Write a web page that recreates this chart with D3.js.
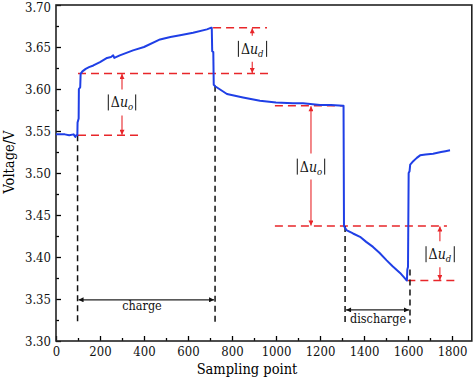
<!DOCTYPE html>
<html><head><meta charset="utf-8">
<script src="https://cdn.jsdelivr.net/npm/d3@7"></script>
<style>
body{margin:0;background:#fff;}
</style></head>
<body><svg id="chart" width="474" height="381"></svg>
<script>
// ---- data ----
const samplePoints = [0,20,40,60,80,88,92,97,98,103,104,110,112,120,135,150,170,200,232,250,260,265,290,350,400,473,520,564,623,686,706,708,710,715,717,725,777,850,927,1000,1077,1123,1200,1250,1305,1307,1309,1320,1350,1382,1410,1441,1470,1503,1530,1564,1591,1595,1597,1600,1603,1607,1610,1620,1640,1655,1680,1714,1750,1770,1791];
const voltage = [3.546,3.546,3.546,3.545,3.546,3.543,3.545,3.545,3.560,3.565,3.600,3.602,3.618,3.621,3.624,3.626,3.628,3.632,3.637,3.638,3.640,3.637,3.640,3.646,3.650,3.659,3.662,3.664,3.667,3.671,3.673,3.673,3.645,3.644,3.605,3.603,3.594,3.590,3.586,3.584,3.583,3.583,3.581,3.581,3.580,3.580,3.437,3.432,3.428,3.424,3.418,3.412,3.405,3.396,3.389,3.381,3.373,3.372,3.385,3.388,3.500,3.502,3.510,3.513,3.518,3.521,3.522,3.523,3.525,3.526,3.527];

const xMajorTicks = [0,200,400,600,800,1000,1200,1400,1600,1800];
const xMinorTicks = [100,300,500,700,900,1100,1300,1500,1700];
const yMajorTicks = [3.30,3.35,3.40,3.45,3.50,3.55,3.60,3.65,3.70];
const yMinorTicks = [3.325,3.375,3.425,3.475,3.525,3.575,3.625,3.675];

// red dashed reference levels: [voltage, fromX, toX]
const redLevels = [[3.545,100,395],[3.6186,100,973],[3.673,714,959],[3.580,995,1305],[3.437,995,1777],[3.372,1597,1814]];
// black dashed verticals: [x, fromV, toV]
const blackVerticals = [[98,3.545,3.323],[723,3.604,3.319],[1314,3.437,3.321],[1609,3.385,3.321]];
// double arrows with labels: [fromX, toX, voltage, label, labelX, labelV]
const spanArrows = [[98,723,3.349,"charge",391,3.337],[1314,1609,3.337,"discharge",1464,3.3215]];
// red delta arrows: [x, topV, bottomV, subscript, labelV]
const deltaArrows = [[300,3.6186,3.545,"o",3.584],[892,3.673,3.6186,"d",3.6478],[1159,3.580,3.437,"o",3.5076],[1745,3.437,3.372,"d",3.4033]];

// ---- scales ----
const FONT = "DejaVu Serif Condensed, DejaVu Serif";
const svg = d3.select("#chart");
const x = d3.scaleLinear().domain([0,1890]).range([56,471.8]);
const y = d3.scaleLinear().domain([3.30,3.70]).range([341,5]);
const red = "#e8262a", blue = "#1f3fe6";

// axes
const gx = svg.append("g").attr("transform","translate(0,341)")
  .call(d3.axisBottom(x).tickValues(xMajorTicks).tickSize(-5).tickPadding(6).tickFormat(d3.format("d")));
const gxm = svg.append("g").attr("transform","translate(0,341)")
  .call(d3.axisBottom(x).tickValues(xMinorTicks).tickSize(-3).tickFormat(""));
const gy = svg.append("g").attr("transform","translate(56,0)")
  .call(d3.axisLeft(y).tickValues(yMajorTicks).tickSize(-5).tickPadding(5).tickFormat(d3.format(".2f")));
const gym = svg.append("g").attr("transform","translate(56,0)")
  .call(d3.axisLeft(y).tickValues(yMinorTicks).tickSize(-3).tickFormat(""));
[gx,gxm,gy,gym].forEach(g=>{
  g.attr("font-family",FONT);
  g.select(".domain").remove();
  g.selectAll("line").attr("stroke","#000").attr("stroke-width",1.3);
  g.selectAll("text").attr("font-size",13).attr("fill","#111");
});
gy.selectAll(".tick text").filter(d=>d===3.70).attr("dy","0.5em");

svg.append("rect").attr("x",56).attr("y",5).attr("width",471.8-56).attr("height",336)
  .attr("fill","none").attr("stroke","#222").attr("stroke-width",1.6);

// axis titles
svg.append("text").attr("x",247).attr("y",374).attr("text-anchor","middle")
  .attr("font-family",FONT).attr("font-size",14.5).text("Sampling point");
svg.append("text").attr("transform","translate(14,162) rotate(-90)").attr("text-anchor","middle")
  .attr("font-family",FONT).attr("font-size",14.5).text("Voltage/V");

// red dashed levels
svg.append("g").selectAll("line").data(redLevels).join("line")
  .attr("x1",d=>x(d[1])).attr("x2",d=>x(d[2])).attr("y1",d=>y(d[0])).attr("y2",d=>y(d[0]))
  .attr("stroke",red).attr("stroke-width",1.5).attr("stroke-dasharray","8,5");

// black dashed verticals
svg.append("g").selectAll("line").data(blackVerticals).join("line")
  .attr("x1",d=>x(d[0])).attr("x2",d=>x(d[0])).attr("y1",d=>y(d[1])).attr("y2",d=>y(d[2]))
  .attr("stroke","#111").attr("stroke-width",1.5).attr("stroke-dasharray","6,4");

// data line
const pts = samplePoints.map((s,i)=>[s,voltage[i]]);
svg.append("path").datum(pts)
  .attr("d",d3.line().x(d=>x(d[0])).y(d=>y(d[1])))
  .attr("fill","none").attr("stroke",blue).attr("stroke-width",2).attr("stroke-linejoin","round");

// arrow markers
const defs = svg.append("defs");
function marker(id,color){
  defs.append("marker").attr("id",id).attr("viewBox","0 0 10 10").attr("refX",10).attr("refY",5)
    .attr("markerWidth",6).attr("markerHeight",5).attr("markerUnits","userSpaceOnUse").attr("orient","auto-start-reverse")
    .append("path").attr("d","M0,0L10,5L0,10Z").attr("fill",color);
}
marker("ab","#111"); marker("ar",red);

// span arrows
spanArrows.forEach(a=>{
  svg.append("line").attr("x1",x(a[0])+1).attr("x2",x(a[1])-1).attr("y1",y(a[2])).attr("y2",y(a[2]))
    .attr("stroke","#222").attr("stroke-width",1.2)
    .attr("marker-start","url(#ab)").attr("marker-end","url(#ab)");
  svg.append("text").attr("x",x(a[4])).attr("y",y(a[5])).attr("text-anchor","middle")
    .attr("font-family",FONT).attr("font-size",12.5).attr("fill","#111").text(a[3]);
});

// delta arrows
deltaArrows.forEach(a=>{
  const cx = x(a[0]), cy = y(a[4]);
  const t = svg.append("text").attr("x",cx).attr("y",cy+5).attr("text-anchor","middle")
    .attr("font-family",FONT).attr("font-size",14).attr("fill","#111");
  t.append("tspan").text("Δ");
  t.append("tspan").attr("font-style","italic").text("u");
  t.append("tspan").attr("font-style","italic").attr("font-size",9.5).attr("dy",3).text(a[3]);
  const bb = t.node().getBBox();
  const left = bb.x - 2.5, right = bb.x + bb.width + 2.5;
  [left,right].forEach(bx=>svg.append("line").attr("x1",bx).attr("x2",bx).attr("y1",cy-8).attr("y2",cy+8)
    .attr("stroke","#111").attr("stroke-width",1));
  const top = y(a[1]), bot = y(a[2]);
  svg.append("line").attr("x1",cx).attr("x2",cx).attr("y1",cy-13).attr("y2",top+0.5)
    .attr("stroke",red).attr("stroke-width",1.1).attr("marker-end","url(#ar)");
  svg.append("line").attr("x1",cx).attr("x2",cx).attr("y1",cy+13).attr("y2",bot-0.5)
    .attr("stroke",red).attr("stroke-width",1.1).attr("marker-end","url(#ar)");
});
</script></body></html>
